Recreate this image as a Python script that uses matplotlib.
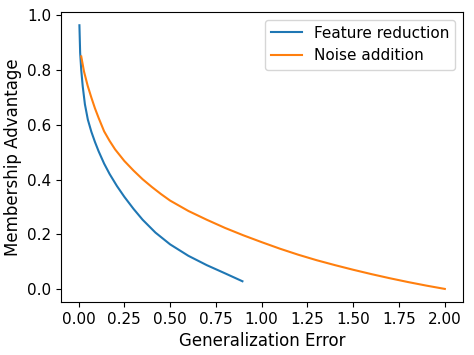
import numpy as np
import matplotlib.pyplot as plt

# Feature reduction curve
fr_x = [0.005, 0.009, 0.015, 0.023, 0.035, 0.051, 0.07, 0.09, 0.11, 0.14, 0.17,
        0.21, 0.25, 0.30, 0.35, 0.42, 0.50, 0.60, 0.70, 0.80, 0.895]
fr_y = [0.964, 0.863, 0.80, 0.741, 0.675, 0.619, 0.575, 0.537, 0.503, 0.458, 0.42,
        0.376, 0.337, 0.293, 0.253, 0.206, 0.163, 0.121, 0.087, 0.057, 0.028]

# Noise addition curve
na_x = [0.015, 0.03, 0.05, 0.07, 0.09, 0.11, 0.14, 0.17, 0.20, 0.25, 0.30, 0.35,
        0.40, 0.45, 0.50, 0.60, 0.70, 0.80, 0.90, 1.0, 1.1, 1.2, 1.3, 1.4, 1.5, 1.6,
        1.7, 1.8, 1.9, 2.0]
na_y = [0.85, 0.795, 0.743, 0.70, 0.66, 0.625, 0.576, 0.541, 0.51, 0.468, 0.433, 0.401,
        0.373, 0.347, 0.323, 0.285, 0.253, 0.223, 0.196, 0.171, 0.147, 0.125, 0.105, 0.087,
        0.070, 0.054, 0.039, 0.025, 0.012, 0.0]

fig, ax = plt.subplots(figsize=(4.74, 3.55), dpi=100)
fig.subplots_adjust(left=0.129, right=0.977, top=0.966, bottom=0.149)

ax.plot(fr_x, fr_y, color="#1f77b4", linewidth=1.5, label="Feature reduction")
ax.plot(na_x, na_y, color="#ff7f0e", linewidth=1.5, label="Noise addition")

ax.set_xlabel("Generalization Error", fontsize=12)
ax.set_ylabel("Membership Advantage", fontsize=12)
ax.set_xticks(np.arange(0, 2.01, 0.25))
ax.tick_params(labelsize=11)
ax.legend(fontsize=11, loc="upper right")

fig.savefig("out.png", dpi=100)
